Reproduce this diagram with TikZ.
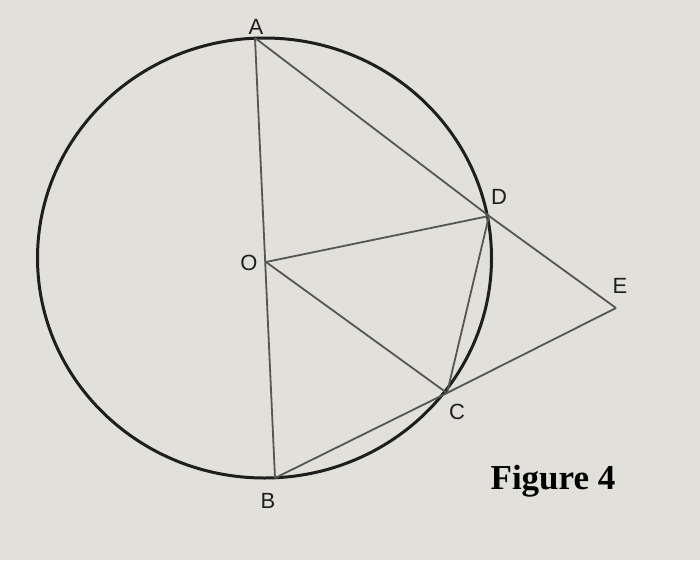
\documentclass[tikz,border=0pt]{standalone}
\usepackage{xcolor}
\usepackage{fontspec}
\setmainfont{Liberation Serif}
\newfontfamily\labelfont{Liberation Sans}
\definecolor{paper}{RGB}{226,224,218}
\definecolor{ink}{RGB}{30,30,30}
\definecolor{pencil}{RGB}{85,85,85}

\begin{document}
\begin{tikzpicture}[x=1pt, y=-1pt]
                            \fill [paper] (0, 0) rectangle (700, 560);
                            \useasboundingbox (0, 0) rectangle (700, 560);

                            \coordinate (A) at (255, 38);
                            \coordinate (B) at (275, 478);
                            \coordinate (C) at (447, 393);
                            \coordinate (D) at (489, 216);
                            \coordinate (E) at (616, 308);
                            \coordinate (O) at (266, 262);

                            \draw [ink, line width=3pt] (264.5, 258) ellipse [x radius=227, y radius=220];

                            \draw [pencil, line width=1.8pt] (A) -- (B);
                            \draw [pencil, line width=1.8pt] (A) -- (D) -- (E);
                            \draw [pencil, line width=1.8pt] (B) -- (C) -- (E);
                            \draw [pencil, line width=1.8pt] (O) -- (D);
                            \draw [pencil, line width=1.8pt] (O) -- (C);
                            \draw [pencil, line width=1.8pt] (D) -- (C);

                            \node (a) at (256, 27) [text=ink, font=\labelfont\fontsize{22}{22}\selectfont] {A};
                            \node (b) at (268, 501) [text=ink, font=\labelfont\fontsize{22}{22}\selectfont] {B};
                            \node (c) at (457, 412) [text=ink, font=\labelfont\fontsize{22}{22}\selectfont] {C};
                            \node (d) at (499, 197) [text=ink, font=\labelfont\fontsize{22}{22}\selectfont] {D};
                            \node (e) at (620, 286) [text=ink, font=\labelfont\fontsize{22}{22}\selectfont] {E};
                            \node (o) at (249, 263) [text=ink, font=\labelfont\fontsize{22}{22}\selectfont] {O};
                            \node (fig) at (553, 481) [text=black, font=\bfseries\fontsize{35}{35}\selectfont] {Figure 4};
                        \end{tikzpicture}
\end{document}
